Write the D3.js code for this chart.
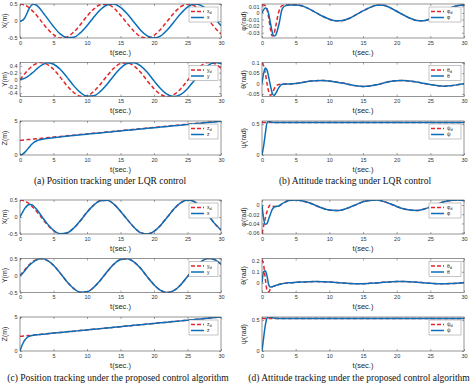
<!DOCTYPE html>
<html>
<head>
<meta charset="utf-8">
<script src="https://cdn.jsdelivr.net/npm/d3@7"></script>
<style>
  body { margin: 0; background: #fff; }
  svg { display: block; }
</style>
</head>
<body>
<svg id="fig"></svg>
<script>
// sample times (s) for every curve
var tGrid = [0,0.25,0.5,0.75,1,1.25,1.5,1.75,2,2.5,3,3.5,4,5,6,7,8,9,10,11,12,13,14,15,16,17,18,19,20,21,22,23,24,25,26,27,28,29,30]
var tTicks = [0,5,10,15,20,25,30]

// reference trajectories (same for both controllers)
var xRef = [0.5,0.5,0.48,0.47,0.44,0.41,0.37,0.32,0.27,0.16,0.04,-0.09,-0.21,
  -0.4,-0.5,-0.47,-0.33,-0.11,0.14,0.35,0.48,0.49,0.38,
  0.17,-0.07,-0.3,-0.46,-0.5,-0.42,-0.24,0,0.24,0.42,
  0.5,0.45,0.3,0.07,-0.18,-0.38]
var yRef = [0,0.06,0.12,0.18,0.24,0.29,0.34,0.38,0.42,0.47,0.5,0.49,0.45,
  0.3,0.07,-0.18,-0.38,-0.49,-0.48,-0.35,-0.14,0.11,0.33,
  0.47,0.49,0.4,0.21,-0.04,-0.27,-0.44,-0.5,-0.44,-0.27,
  -0.03,0.21,0.4,0.5,0.47,0.33]
var zRef = [2.15,2.17,2.2,2.22,2.25,2.27,2.29,2.32,2.34,2.39,2.44,2.48,2.53,
  2.63,2.72,2.82,2.91,3.01,3.1,3.2,3.29,3.39,3.48,
  3.58,3.67,3.77,3.86,3.96,4.05,4.15,4.24,4.34,4.43,
  4.53,4.62,4.72,4.81,4.91,5.0]
var psiRefT = [0, 30]
var psiRef = [0.524, 0.524]

// (a) LQR position
var lqrX = [0,0.01,0.04,0.11,0.21,0.32,0.41,0.47,0.49,0.46,0.36,0.23,0.1,
  -0.16,-0.38,-0.49,-0.48,-0.35,-0.14,0.11,0.33,0.47,0.5,
  0.4,0.21,-0.03,-0.27,-0.44,-0.5,-0.44,-0.26,-0.02,0.22,
  0.41,0.5,0.46,0.32,0.09,-0.14]
var lqrY = [0,0.005,0.02,0.04,0.07,0.1,0.14,0.18,0.22,0.31,0.39,0.45,0.49,
  0.45,0.3,0.07,-0.18,-0.38,-0.49,-0.48,-0.35,-0.14,0.11,
  0.33,0.47,0.49,0.4,0.21,-0.04,-0.27,-0.44,-0.5,-0.44,
  -0.27,-0.03,0.21,0.4,0.5,0.47]
var lqrZ = [0,0.06,0.2,0.42,0.7,1.0,1.3,1.57,1.8,2.1,2.25,2.34,2.42,
  2.55,2.66,2.77,2.87,2.97,3.06,3.16,3.25,3.35,3.44,
  3.54,3.63,3.73,3.82,3.92,4.01,4.11,4.2,4.3,4.39,
  4.49,4.58,4.68,4.77,4.87,4.96]

// (c) proposed position
var propX = [0,0.09,0.18,0.26,0.32,0.36,0.37,0.36,0.33,0.22,0.09,-0.05,-0.18,
  -0.39,-0.49,-0.47,-0.33,-0.11,0.14,0.35,0.48,0.49,0.38,
  0.17,-0.07,-0.3,-0.46,-0.5,-0.42,-0.24,0,0.24,0.42,
  0.5,0.45,0.3,0.07,-0.18,-0.38]
var propY = [0,0.03,0.09,0.15,0.21,0.27,0.32,0.36,0.4,0.46,0.49,0.49,0.45,
  0.3,0.07,-0.18,-0.38,-0.49,-0.48,-0.35,-0.14,0.11,0.33,
  0.47,0.49,0.4,0.21,-0.04,-0.27,-0.44,-0.5,-0.44,-0.27,
  -0.03,0.21,0.4,0.5,0.47,0.33]
var propZ = [0,0.7,1.25,1.65,1.92,2.1,2.2,2.28,2.33,2.39,2.44,2.48,2.53,
  2.63,2.72,2.82,2.91,3.01,3.1,3.2,3.29,3.39,3.48,
  3.58,3.67,3.77,3.86,3.96,4.05,4.15,4.24,4.34,4.43,
  4.53,4.62,4.72,4.81,4.91,5.0]

// (b) LQR attitude
var lqrPhiD = [0.012,0.012,0.011,0.005,-0.008,-0.024,-0.035,-0.033,-0.022,0.002,0.011,0.012,0.012,
  0.012,0.0105,0.006,0.0005,-0.005,-0.0095,-0.012,-0.0115,-0.008,-0.0025,
  0.003,0.008,0.0115,0.0115,0.008,0.0025,-0.003,-0.008,-0.0115,-0.012,
  -0.009,-0.004,0.002,0.0075,0.011,0.012]
var lqrPhi = [0,0.005,0.0075,0.006,-0.002,-0.015,-0.028,-0.035,-0.034,-0.018,0.006,0.011,0.012,
  0.012,0.0105,0.006,0.0005,-0.005,-0.0095,-0.012,-0.0115,-0.008,-0.0025,
  0.003,0.008,0.0115,0.0115,0.008,0.0025,-0.003,-0.008,-0.0115,-0.012,
  -0.009,-0.004,0.002,0.0075,0.011,0.012]
var lqrThetaD = [0.1,0.085,0.05,0,-0.04,-0.057,-0.05,-0.03,-0.015,-0.005,-0.003,-0.002,-0.002,
  0,0.005,0.011,0.014,0.015,0.012,0.007,0.002,-0.005,-0.011,
  -0.014,-0.012,-0.006,0.002,0.01,0.014,0.015,0.012,0.007,0.001,
  -0.005,-0.01,-0.013,-0.011,-0.006,-0.001]
var lqrTheta = [0,0.05,0.075,0.065,0.03,-0.01,-0.045,-0.058,-0.05,-0.02,-0.004,-0.002,-0.002,
  0,0.005,0.011,0.014,0.015,0.012,0.007,0.002,-0.005,-0.011,
  -0.014,-0.012,-0.006,0.002,0.01,0.014,0.015,0.012,0.007,0.001,
  -0.005,-0.01,-0.013,-0.011,-0.006,-0.001]
var lqrPsi = [0,0.15,0.35,0.52,0.54,0.535,0.53,0.527,0.525,0.524,0.524,0.524,0.524,
  0.524,0.524,0.524,0.524,0.524,0.524,0.524,0.524,0.524,0.524,
  0.524,0.524,0.524,0.524,0.524,0.524,0.524,0.524,0.524,0.524,
  0.524,0.524,0.524,0.524,0.524,0.524]

// (d) proposed attitude
var propPhiD = [-0.062,-0.045,-0.028,-0.014,-0.004,0,-0.001,-0.003,-0.003,-0.002,0.003,0.007,0.01,
  0.011,0.009,0.005,-0.001,-0.007,-0.011,-0.012,-0.01,-0.005,0.001,
  0.007,0.01,0.011,0.008,0.003,-0.003,-0.008,-0.011,-0.012,-0.009,
  -0.004,0.002,0.007,0.01,0.011,0.01]
var propPhi = [0,-0.03,-0.042,-0.04,-0.03,-0.02,-0.01,-0.005,-0.003,-0.002,0.003,0.007,0.01,
  0.011,0.009,0.005,-0.001,-0.007,-0.011,-0.012,-0.01,-0.005,0.001,
  0.007,0.01,0.011,0.008,0.003,-0.003,-0.008,-0.011,-0.012,-0.009,
  -0.004,0.002,0.007,0.01,0.011,0.01]
var propThetaD = [0.21,0.16,0.03,-0.07,-0.085,-0.055,-0.038,-0.032,-0.026,-0.016,-0.009,-0.004,-0.001,
  0.003,0.006,0.009,0.01,0.009,0.006,0.002,-0.003,-0.007,-0.009,
  -0.009,-0.006,-0.002,0.003,0.007,0.01,0.01,0.008,0.004,-0.001,
  -0.006,-0.009,-0.01,-0.008,-0.004,0.001]
var propTheta = [0,0.1,0.11,0.06,-0.02,-0.04,-0.038,-0.032,-0.026,-0.016,-0.009,-0.004,-0.001,
  0.003,0.006,0.009,0.01,0.009,0.006,0.002,-0.003,-0.007,-0.009,
  -0.009,-0.006,-0.002,0.003,0.007,0.01,0.01,0.008,0.004,-0.001,
  -0.006,-0.009,-0.01,-0.008,-0.004,0.001]
var propPsi = [0,0.22,0.42,0.535,0.55,0.548,0.54,0.533,0.528,0.525,0.524,0.524,0.524,
  0.524,0.524,0.524,0.524,0.524,0.524,0.524,0.524,0.524,0.524,
  0.524,0.524,0.524,0.524,0.524,0.524,0.524,0.524,0.524,0.524,
  0.524,0.524,0.524,0.524,0.524,0.524]

// y tick values
var posTicks = [-0.5, 0, 0.5]
var yLqrTicks = [-0.4, -0.2, 0, 0.2, 0.4]
var zTicks = [0, 5]
var phiLqrTicks = [-0.03, -0.02, -0.01, 0, 0.01]
var thetaLqrTicks = [-0.05, 0, 0.05, 0.1]
var psiTicks = [0, 0.5]
var phiPropTicks = [-0.06, -0.04, -0.02, 0]
var thetaPropTicks = [0, 0.1, 0.2]

var captions = [
  '(a)  Position tracking under LQR control',
  '(b)  Attitude tracking under LQR control',
  '(c)  Position tracking under the proposed control algorithm',
  '(d)  Attitude tracking under the proposed control algorithm'
]

var width = 474, height = 384
var svg = d3.select('#fig').attr('width', width).attr('height', height)

var blue = '#0a6fb8', red = '#e3262c', axisCol = '#4d4d4d'
var cols = [[20, 221], [262, 464]]
var rowTop = [4, 62.5, 121, 200, 258.5, 317]
var ph = 34

var panels = [
  {c: 0, r: 0, lab: 'X(m)', sym: 'x', dom: [-0.5, 0.5], ticks: posTicks, ref: xRef, act: lqrX},
  {c: 0, r: 1, lab: 'Y(m)', sym: 'y', dom: [-0.5, 0.5], ticks: yLqrTicks, ref: yRef, act: lqrY},
  {c: 0, r: 2, lab: 'Z(m)', sym: 'z', dom: [0, 5], ticks: zTicks, ref: zRef, act: lqrZ},
  {c: 0, r: 3, lab: 'X(m)', sym: 'x', dom: [-0.5, 0.5], ticks: posTicks, ref: xRef, act: propX},
  {c: 0, r: 4, lab: 'Y(m)', sym: 'y', dom: [-0.5, 0.5], ticks: posTicks, ref: yRef, act: propY},
  {c: 0, r: 5, lab: 'Z(m)', sym: 'z', dom: [0, 5], ticks: zTicks, ref: zRef, act: propZ},
  {c: 1, r: 0, lab: 'φ(rad)', sym: 'φ', dom: [-0.038, 0.0135], ticks: phiLqrTicks, ref: lqrPhiD, act: lqrPhi},
  {c: 1, r: 1, lab: 'θ(rad)', sym: 'θ', dom: [-0.063, 0.102], ticks: thetaLqrTicks, ref: lqrThetaD, act: lqrTheta},
  {c: 1, r: 2, lab: 'ψ(rad)', sym: 'ψ', dom: [0, 0.55], ticks: psiTicks, ref: psiRef, refT: psiRefT, act: lqrPsi},
  {c: 1, r: 3, lab: 'φ(rad)', sym: 'φ', dom: [-0.063, 0.011], ticks: phiPropTicks, ref: propPhiD, act: propPhi},
  {c: 1, r: 4, lab: 'θ(rad)', sym: 'θ', dom: [-0.09, 0.222], ticks: thetaPropTicks, ref: propThetaD, act: propTheta},
  {c: 1, r: 5, lab: 'ψ(rad)', sym: 'ψ', dom: [0, 0.55], ticks: psiTicks, ref: psiRef, refT: psiRefT, act: propPsi}
]

var defs = svg.append('defs')

panels.forEach(function (p, k) {
  var x0 = cols[p.c][0], x1 = cols[p.c][1]
  var y0 = rowTop[p.r], y1 = y0 + ph
  var x = d3.scaleLinear().domain([0, 30]).range([x0, x1])
  var y = d3.scaleLinear().domain(p.dom).range([y1, y0])
  var g = svg.append('g')

  defs.append('clipPath').attr('id', 'clip' + k)
    .append('rect').attr('x', x0).attr('y', y0).attr('width', x1 - x0).attr('height', ph)

  // axes, ticks pointing inward like matlab
  var fmt = function (d) { return String(d) }
  var bottom = d3.axisBottom(x).tickValues(tTicks).tickSizeInner(-2).tickSizeOuter(0).tickPadding(3)
  var top = d3.axisTop(x).tickValues(tTicks).tickSizeInner(-2).tickSizeOuter(0).tickFormat('')
  var left = d3.axisLeft(y).tickValues(p.ticks).tickFormat(fmt).tickSizeInner(-2).tickSizeOuter(0).tickPadding(2.5)
  var right = d3.axisRight(y).tickValues(p.ticks).tickSizeInner(-2).tickSizeOuter(0).tickFormat('')

  var gb = g.append('g').attr('transform', 'translate(0,' + y1 + ')').call(bottom)
  var gt = g.append('g').attr('transform', 'translate(0,' + y0 + ')').call(top)
  var gl = g.append('g').attr('transform', 'translate(' + x0 + ',0)').call(left)
  var gr = g.append('g').attr('transform', 'translate(' + x1 + ',0)').call(right)
  ;[gb, gt, gl, gr].forEach(function (a) {
    a.select('.domain').remove()
    a.selectAll('line').attr('stroke', axisCol).attr('stroke-width', 0.5)
    a.selectAll('text').attr('fill', '#333').attr('font-size', '5.5px')
      .attr('font-family', 'Liberation Sans, Arial, sans-serif')
  })

  // curves
  var curves = g.append('g').attr('clip-path', 'url(#clip' + k + ')')
  var refT = p.refT || tGrid
  var lineRef = d3.line().x(function (d, i) { return x(refT[i]) }).y(function (d) { return y(d) }).curve(d3.curveMonotoneX)
  var lineAct = d3.line().x(function (d, i) { return x(tGrid[i]) }).y(function (d) { return y(d) }).curve(d3.curveMonotoneX)
  curves.append('path').datum(p.ref).attr('d', lineRef)
    .attr('fill', 'none').attr('stroke', red).attr('stroke-width', 1.5).attr('stroke-dasharray', '4,2.5')
  curves.append('path').datum(p.act).attr('d', lineAct)
    .attr('fill', 'none').attr('stroke', blue).attr('stroke-width', 1.5)

  // box
  g.append('rect').attr('x', x0).attr('y', y0).attr('width', x1 - x0).attr('height', ph)
    .attr('fill', 'none').attr('stroke', axisCol).attr('stroke-width', 0.6)

  // legend
  var lw = p.c === 0 ? 29 : 32, lx = x1 - 3 - lw, ly = y0 + 3
  var lg = g.append('g')
  lg.append('rect').attr('x', lx).attr('y', ly).attr('width', lw).attr('height', 15)
    .attr('fill', '#fff').attr('stroke', '#8a8a8a').attr('stroke-width', 0.5)
  var rows = [{col: red, dash: '4,2', sub: true}, {col: blue, dash: null, sub: false}]
  rows.forEach(function (row, i) {
    var yy = ly + 4.5 + i * 6
    lg.append('line').attr('x1', lx + 2).attr('x2', lx + 15).attr('y1', yy).attr('y2', yy)
      .attr('stroke', row.col).attr('stroke-width', 1.5).attr('stroke-dasharray', row.dash)
    var t = lg.append('text').attr('x', lx + 18).attr('y', yy + 1.8)
      .attr('font-size', '5px').attr('fill', '#222')
      .attr('font-family', 'Liberation Sans, Arial, sans-serif')
    t.append('tspan').text(p.sym)
    if (row.sub) t.append('tspan').attr('font-size', '3.8px').attr('dy', 1).text('d')
  })

  // axis titles
  svg.append('text').attr('x', (x0 + x1) / 2).attr('y', y1 + 16.5)
    .attr('text-anchor', 'middle').attr('font-size', '7.5px').attr('fill', '#262626')
    .attr('font-family', 'Liberation Sans, Arial, sans-serif').text('t(sec.)')
  var lxp = p.c === 0 ? 7 : 246
  svg.append('text').attr('transform', 'translate(' + lxp + ',' + (y0 + ph / 2) + ') rotate(-90)')
    .attr('text-anchor', 'middle').attr('font-size', '7px').attr('fill', '#262626')
    .attr('font-family', 'Liberation Sans, Arial, sans-serif').text(p.lab)
})

// sub-figure captions
var capPos = [[110, 183.5], [355, 184], [118, 380.5], [359, 381]]
captions.forEach(function (c, i) {
  svg.append('text').attr('x', capPos[i][0]).attr('y', capPos[i][1])
    .attr('text-anchor', 'middle').attr('font-size', '9.5px').attr('fill', '#111')
    .attr('font-family', 'Liberation Serif, Times New Roman, serif').text(c)
})
</script>
</body>
</html>
